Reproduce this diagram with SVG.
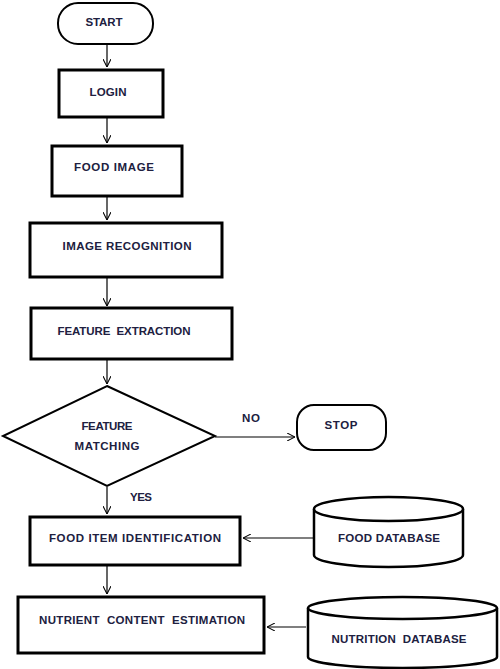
<svg xmlns="http://www.w3.org/2000/svg" width="500" height="669" viewBox="0 0 500 669">
<style>
.box{fill:#fff;stroke:#000;stroke-width:3}
.term{fill:#fff;stroke:#000;stroke-width:2}
.dia{fill:#fff;stroke:#000;stroke-width:2}
.cyl{fill:#fff;stroke:#000;stroke-width:2.5}
.conn{fill:none;stroke:#000;stroke-width:1.2}
text{font-family:"Liberation Sans",Arial,sans-serif;font-size:11.5px;font-weight:bold;fill:#202040;text-anchor:middle;dominant-baseline:central}
</style>
<defs>
<marker id="arr" viewBox="0 0 10 10" refX="10" refY="5" markerWidth="8" markerHeight="8" markerUnits="userSpaceOnUse" orient="auto">
<path d="M0,0 L10,5 L0,10" fill="none" stroke="#000" stroke-width="1.3"/>
</marker>
</defs>
<rect width="500" height="669" fill="#fff"/>
<g id="connectors">
<line class="conn" x1="107" y1="45" x2="107" y2="67" marker-end="url(#arr)"/>
<line class="conn" x1="107" y1="118" x2="107" y2="143" marker-end="url(#arr)"/>
<line class="conn" x1="107" y1="197" x2="107" y2="220" marker-end="url(#arr)"/>
<line class="conn" x1="107" y1="278" x2="107" y2="306" marker-end="url(#arr)"/>
<line class="conn" x1="107" y1="360" x2="107" y2="384" marker-end="url(#arr)"/>
<line class="conn" x1="215" y1="437" x2="295" y2="437" marker-end="url(#arr)"/>
<line class="conn" x1="107" y1="487" x2="107" y2="514" marker-end="url(#arr)"/>
<line class="conn" x1="313" y1="538" x2="243" y2="538" marker-end="url(#arr)"/>
<line class="conn" x1="107" y1="566" x2="107" y2="594" marker-end="url(#arr)"/>
<line class="conn" x1="306" y1="627" x2="267" y2="627" marker-end="url(#arr)"/>
<text x="251" y="418" textLength="18">NO</text>
<text x="141" y="497" textLength="22">YES</text>
</g>
<g id="start">
<rect class="term" x="58" y="3" width="95" height="41" rx="20"/>
<text x="104" y="22" textLength="37">START</text>
</g>
<g id="login">
<rect class="box" x="59" y="70" width="104" height="47"/>
<text x="108" y="92" textLength="37">LOGIN</text>
</g>
<g id="food-image">
<rect class="box" x="52" y="146" width="130" height="50"/>
<text x="114" y="167" textLength="80">FOOD IMAGE</text>
</g>
<g id="image-recognition">
<rect class="box" x="30" y="223" width="192" height="54"/>
<text x="127" y="246" textLength="129">IMAGE RECOGNITION</text>
</g>
<g id="feature-extraction">
<rect class="box" x="31" y="308" width="201" height="51"/>
<text x="124" y="331" textLength="133" xml:space="preserve">FEATURE  EXTRACTION</text>
</g>
<g id="feature-matching">
<polygon class="dia" points="107,386 215,436 107,486 3,436"/>
<text x="107" y="426" textLength="51">FEATURE</text>
<text x="107" y="446" textLength="65">MATCHING</text>
</g>
<g id="stop">
<rect class="term" x="297" y="405" width="89" height="45" rx="17"/>
<text x="341" y="425" textLength="33">STOP</text>
</g>
<g id="food-item-identification">
<rect class="box" x="30" y="517" width="210" height="48"/>
<text x="135" y="538" textLength="172">FOOD ITEM IDENTIFICATION</text>
</g>
<g id="food-database">
<path class="cyl" d="M314,509 L314,555 A74.5,12 0 0 0 463,555 L463,509"/>
<ellipse class="cyl" cx="388.5" cy="509" rx="74.5" ry="12"/>
<text x="389" y="538" textLength="102">FOOD DATABASE</text>
</g>
<g id="nutrient-content-estimation">
<rect class="box" x="18" y="597" width="246" height="56"/>
<text x="142" y="620" textLength="206" xml:space="preserve">NUTRIENT  CONTENT  ESTIMATION</text>
</g>
<g id="nutrition-database">
<path class="cyl" d="M308,608 L308,657 A94.5,11 0 0 0 497,657 L497,608"/>
<ellipse class="cyl" cx="402.5" cy="608" rx="94.5" ry="11"/>
<text x="399" y="639" textLength="135" xml:space="preserve">NUTRITION  DATABASE</text>
</g>
</svg>
